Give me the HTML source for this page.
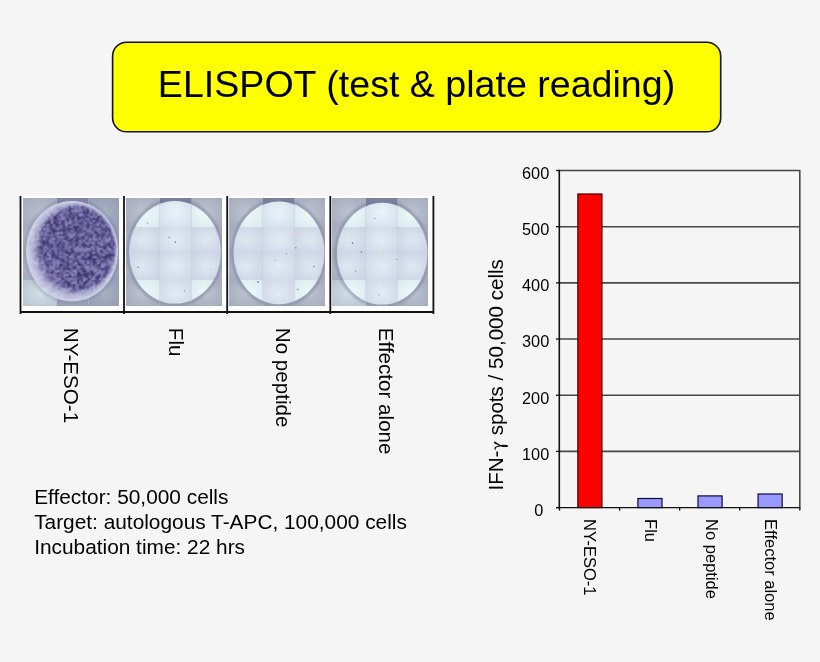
<!DOCTYPE html>
<html><head><meta charset="utf-8"><title>ELISPOT</title>
<style>
html,body{margin:0;padding:0;background:#f5f5f5;}
body{width:820px;height:662px;overflow:hidden;font-family:"Liberation Sans",sans-serif;}
svg{display:block;will-change:transform;}
</style></head><body>
<svg width="820" height="662" viewBox="0 0 820 662"><rect x="21.5" y="196" width="101.5" height="115" fill="#ffffff"/><rect x="125" y="196" width="101.2" height="115" fill="#ffffff"/><rect x="228.2" y="196" width="101.1" height="115" fill="#ffffff"/><rect x="331.3" y="196" width="101.1" height="115" fill="#ffffff"/><defs><radialGradient id="gib" cx="0.5" cy="0.5" r="0.72"><stop offset="0" stop-color="#eefafa"/><stop offset="1" stop-color="#dae8ee"/></radialGradient><radialGradient id="gim" cx="0.5" cy="0.5" r="0.72"><stop offset="0" stop-color="#e2ecf4"/><stop offset="1" stop-color="#ced4e6"/></radialGradient><radialGradient id="gis" cx="0.5" cy="0.5" r="0.72"><stop offset="0" stop-color="#dee8f0"/><stop offset="1" stop-color="#cad0e4"/></radialGradient><radialGradient id="gob" cx="0.5" cy="0.5" r="0.72"><stop offset="0" stop-color="#bcc2ce"/><stop offset="1" stop-color="#a4aabc"/></radialGradient><radialGradient id="gib2" cx="0.5" cy="0.5" r="0.72"><stop offset="0" stop-color="#e8f4f8"/><stop offset="1" stop-color="#d2dcec"/></radialGradient><radialGradient id="god" cx="0.5" cy="0.5" r="0.72"><stop offset="0" stop-color="#8c92aa"/><stop offset="1" stop-color="#767c98"/></radialGradient><radialGradient id="gol" cx="0.5" cy="0.5" r="0.72"><stop offset="0" stop-color="#d0dee4"/><stop offset="1" stop-color="#b6c4d2"/></radialGradient><radialGradient id="go1a" cx="0.5" cy="0.5" r="0.72"><stop offset="0" stop-color="#b8becc"/><stop offset="1" stop-color="#a4aabc"/></radialGradient><radialGradient id="go1m" cx="0.5" cy="0.5" r="0.72"><stop offset="0" stop-color="#a8b0c2"/><stop offset="1" stop-color="#949cb4"/></radialGradient><radialGradient id="go1d" cx="0.5" cy="0.5" r="0.72"><stop offset="0" stop-color="#9296b4"/><stop offset="1" stop-color="#7e82a4"/></radialGradient><filter id="blur1" x="-0.1" y="-0.1" width="1.2" height="1.2"><feGaussianBlur stdDeviation="0.9"/></filter><filter id="soft" x="0" y="0" width="1" height="1"><feConvolveMatrix order="3" kernelMatrix="1 2 1 2 4 2 1 2 1" edgeMode="duplicate"/></filter><clipPath id="ce0"><ellipse cx="72.1" cy="251.1" rx="46" ry="50.2"/></clipPath><clipPath id="cr0"><rect x="23" y="198" width="96" height="108"/></clipPath><clipPath id="ce1"><ellipse cx="175" cy="252.3" rx="45.8" ry="51.3"/></clipPath><clipPath id="cr1"><rect x="126" y="198" width="96" height="108"/></clipPath><clipPath id="ce2"><ellipse cx="279" cy="252.8" rx="45.4" ry="51.4"/></clipPath><clipPath id="cr2"><rect x="229" y="198" width="96" height="108"/></clipPath><clipPath id="ce3"><ellipse cx="382.2" cy="253.7" rx="45.2" ry="50.9"/></clipPath><clipPath id="cr3"><rect x="332" y="198" width="96" height="108"/></clipPath></defs><g clip-path="url(#cr0)"><rect x="23" y="198" width="33.6" height="29" fill="url(#go1a)"/><rect x="56.6" y="198" width="32.1" height="29" fill="url(#go1d)"/><rect x="88.7" y="198" width="30.3" height="29" fill="url(#go1m)"/><rect x="23" y="227" width="33.6" height="26" fill="url(#go1a)"/><rect x="56.6" y="227" width="32.1" height="26" fill="url(#go1d)"/><rect x="88.7" y="227" width="30.3" height="26" fill="url(#go1m)"/><rect x="23" y="253" width="33.6" height="27" fill="url(#go1a)"/><rect x="56.6" y="253" width="32.1" height="27" fill="url(#go1m)"/><rect x="88.7" y="253" width="30.3" height="27" fill="url(#go1m)"/><rect x="23" y="280" width="33.6" height="26" fill="url(#gol)"/><rect x="56.6" y="280" width="32.1" height="26" fill="url(#go1m)"/><rect x="88.7" y="280" width="30.3" height="26" fill="url(#go1m)"/><ellipse cx="72.1" cy="251.1" rx="47.2" ry="51.400000000000006" fill="none" stroke="#6f7698" stroke-width="2" opacity="0.4" filter="url(#blur1)"/><g clip-path="url(#ce0)"><g filter="url(#soft)"><g transform="translate(23 198) scale(2)" shape-rendering="crispEdges"><path fill="#c6cce4" d="M0 0h1v1h-1zM18 0h1v1h-1zM23 0h1v1h-1zM12 1h1v1h-1zM20 2h2v1h-2zM24 2h1v1h-1zM30 2h1v1h-1zM32 3h1v1h-1zM13 5h1v1h-1zM39 5h1v1h-1zM0 8h1v1h-1zM7 8h1v1h-1zM7 9h1v1h-1zM43 12h1v1h-1zM0 13h1v1h-1zM45 16h1v1h-1zM2 23h1v1h-1zM2 24h2v1h-2zM47 25h1v1h-1zM1 27h1v1h-1zM3 33h1v1h-1zM4 35h1v1h-1zM5 37h1v1h-1zM44 37h2v1h-2zM46 38h1v1h-1zM5 39h1v1h-1zM43 39h1v1h-1zM42 40h1v1h-1zM41 42h1v1h-1zM8 43h1v1h-1zM4 44h1v1h-1zM10 44h1v1h-1zM0 46h1v1h-1zM2 47h1v1h-1zM46 47h1v1h-1zM12 48h1v1h-1zM10 49h1v1h-1zM18 49h1v1h-1zM22 50h1v1h-1zM24 50h1v1h-1zM27 50h1v1h-1zM4 51h1v1h-1zM9 51h1v1h-1zM0 52h1v1h-1zM3 52h1v1h-1zM4 53h1v1h-1zM17 53h1v1h-1zM41 53h1v1h-1z"/><path fill="#d2d2ea" d="M1 0h1v1h-1zM10 0h1v1h-1zM12 0h2v1h-2zM17 0h1v1h-1zM20 0h1v1h-1zM28 0h1v1h-1zM30 0h3v1h-3zM35 0h1v1h-1zM42 0h2v1h-2zM3 1h1v1h-1zM11 1h1v1h-1zM15 1h1v1h-1zM23 1h1v1h-1zM41 1h1v1h-1zM45 1h3v1h-3zM0 2h1v1h-1zM6 2h1v1h-1zM15 2h1v1h-1zM17 2h1v1h-1zM19 2h1v1h-1zM31 2h1v1h-1zM33 2h3v1h-3zM39 2h1v1h-1zM42 2h3v1h-3zM3 3h1v1h-1zM5 3h2v1h-2zM9 3h1v1h-1zM12 3h1v1h-1zM37 3h1v1h-1zM4 4h1v1h-1zM13 4h2v1h-2zM39 4h1v1h-1zM46 4h2v1h-2zM4 5h1v1h-1zM7 5h1v1h-1zM9 5h2v1h-2zM12 5h1v1h-1zM1 6h1v1h-1zM4 6h1v1h-1zM39 6h2v1h-2zM2 7h1v1h-1zM4 7h1v1h-1zM9 7h1v1h-1zM40 7h1v1h-1zM43 7h3v1h-3zM47 7h1v1h-1zM41 8h1v1h-1zM45 8h1v1h-1zM2 9h3v1h-3zM8 9h1v1h-1zM44 9h1v1h-1zM46 9h1v1h-1zM43 10h5v1h-5zM1 11h1v1h-1zM3 11h2v1h-2zM1 12h1v1h-1zM45 12h2v1h-2zM1 13h2v1h-2zM45 13h2v1h-2zM2 14h1v1h-1zM1 15h1v1h-1zM3 15h1v1h-1zM1 16h2v1h-2zM1 17h2v1h-2zM2 18h1v1h-1zM47 18h1v1h-1zM0 19h2v1h-2zM1 20h1v1h-1zM0 23h2v1h-2zM47 28h1v1h-1zM0 31h2v1h-2zM47 31h1v1h-1zM46 32h1v1h-1zM0 34h1v1h-1zM47 34h1v1h-1zM46 35h1v1h-1zM1 36h1v1h-1zM3 36h1v1h-1zM3 37h1v1h-1zM46 37h1v1h-1zM2 38h1v1h-1zM4 38h1v1h-1zM3 39h2v1h-2zM47 39h1v1h-1zM3 40h1v1h-1zM5 40h2v1h-2zM46 40h2v1h-2zM2 41h2v1h-2zM5 41h1v1h-1zM42 41h1v1h-1zM2 42h1v1h-1zM5 42h1v1h-1zM43 42h1v1h-1zM0 43h1v1h-1zM4 43h2v1h-2zM42 43h1v1h-1zM47 43h1v1h-1zM7 44h1v1h-1zM7 45h1v1h-1zM10 45h2v1h-2zM42 45h1v1h-1zM44 45h2v1h-2zM4 46h1v1h-1zM6 46h1v1h-1zM9 46h1v1h-1zM41 46h1v1h-1zM47 46h1v1h-1zM4 47h1v1h-1zM9 47h2v1h-2zM12 47h1v1h-1zM37 47h1v1h-1zM47 47h1v1h-1zM1 48h1v1h-1zM4 48h1v1h-1zM10 48h1v1h-1zM45 48h1v1h-1zM47 48h1v1h-1zM9 49h1v1h-1zM13 49h1v1h-1zM16 49h1v1h-1zM34 49h1v1h-1zM40 49h1v1h-1zM44 49h1v1h-1zM5 50h1v1h-1zM7 50h1v1h-1zM9 50h1v1h-1zM14 50h2v1h-2zM17 50h1v1h-1zM26 50h1v1h-1zM28 50h1v1h-1zM33 50h1v1h-1zM37 50h1v1h-1zM40 50h1v1h-1zM42 50h1v1h-1zM2 51h1v1h-1zM7 51h1v1h-1zM14 51h1v1h-1zM20 51h1v1h-1zM22 51h2v1h-2zM25 51h1v1h-1zM27 51h1v1h-1zM29 51h1v1h-1zM34 51h2v1h-2zM44 51h1v1h-1zM46 51h1v1h-1zM1 52h1v1h-1zM8 52h2v1h-2zM22 52h1v1h-1zM28 52h1v1h-1zM37 52h1v1h-1zM42 52h1v1h-1zM45 52h1v1h-1zM47 52h1v1h-1zM0 53h1v1h-1zM2 53h1v1h-1zM8 53h1v1h-1zM11 53h1v1h-1zM18 53h1v1h-1zM23 53h1v1h-1zM25 53h2v1h-2zM31 53h1v1h-1zM36 53h1v1h-1zM39 53h2v1h-2zM42 53h1v1h-1zM47 53h1v1h-1z"/><path fill="#d2d8ea" d="M2 0h1v1h-1zM6 0h1v1h-1zM21 0h1v1h-1zM24 0h1v1h-1zM44 0h2v1h-2zM7 1h2v1h-2zM17 1h2v1h-2zM22 1h1v1h-1zM25 1h1v1h-1zM30 1h1v1h-1zM36 1h1v1h-1zM40 1h1v1h-1zM5 2h1v1h-1zM7 2h1v1h-1zM14 2h1v1h-1zM16 2h1v1h-1zM32 2h1v1h-1zM38 2h1v1h-1zM40 2h1v1h-1zM45 2h1v1h-1zM10 3h1v1h-1zM36 3h1v1h-1zM40 3h1v1h-1zM44 3h1v1h-1zM46 3h1v1h-1zM0 4h1v1h-1zM3 4h1v1h-1zM35 4h1v1h-1zM40 4h1v1h-1zM42 4h2v1h-2zM6 5h1v1h-1zM41 5h1v1h-1zM47 5h1v1h-1zM2 6h1v1h-1zM9 6h1v1h-1zM38 6h1v1h-1zM42 6h2v1h-2zM45 6h1v1h-1zM46 7h1v1h-1zM1 8h1v1h-1zM6 8h1v1h-1zM40 8h1v1h-1zM44 8h1v1h-1zM46 8h1v1h-1zM43 9h1v1h-1zM47 9h1v1h-1zM0 10h1v1h-1zM6 10h1v1h-1zM5 11h2v1h-2zM47 11h1v1h-1zM2 12h1v1h-1zM44 12h1v1h-1zM47 13h1v1h-1zM1 14h1v1h-1zM0 15h1v1h-1zM45 15h1v1h-1zM0 16h1v1h-1zM3 16h1v1h-1zM3 17h1v1h-1zM0 22h1v1h-1zM47 22h1v1h-1zM0 24h1v1h-1zM0 26h2v1h-2zM1 28h1v1h-1zM0 29h2v1h-2zM0 32h1v1h-1zM47 32h1v1h-1zM0 35h1v1h-1zM47 35h1v1h-1zM0 36h1v1h-1zM2 36h1v1h-1zM47 36h1v1h-1zM3 38h1v1h-1zM0 39h2v1h-2zM1 42h1v1h-1zM3 42h1v1h-1zM44 42h1v1h-1zM46 42h1v1h-1zM2 43h2v1h-2zM6 43h1v1h-1zM41 43h1v1h-1zM3 44h1v1h-1zM5 44h1v1h-1zM40 44h1v1h-1zM44 44h1v1h-1zM0 45h1v1h-1zM4 45h1v1h-1zM39 45h1v1h-1zM41 45h1v1h-1zM5 46h1v1h-1zM11 46h1v1h-1zM38 46h1v1h-1zM42 46h3v1h-3zM5 47h2v1h-2zM39 47h1v1h-1zM41 47h2v1h-2zM44 47h1v1h-1zM2 48h1v1h-1zM11 48h1v1h-1zM13 48h1v1h-1zM36 48h2v1h-2zM39 48h2v1h-2zM2 49h1v1h-1zM8 49h1v1h-1zM11 49h2v1h-2zM35 49h2v1h-2zM38 49h1v1h-1zM42 49h1v1h-1zM47 49h1v1h-1zM3 50h2v1h-2zM35 50h1v1h-1zM45 50h1v1h-1zM47 50h1v1h-1zM0 51h1v1h-1zM5 51h2v1h-2zM8 51h1v1h-1zM11 51h1v1h-1zM19 51h1v1h-1zM24 51h1v1h-1zM30 51h1v1h-1zM36 51h1v1h-1zM38 51h2v1h-2zM5 52h1v1h-1zM12 52h1v1h-1zM14 52h1v1h-1zM17 52h1v1h-1zM20 52h1v1h-1zM24 52h1v1h-1zM29 52h1v1h-1zM35 52h1v1h-1zM1 53h1v1h-1zM12 53h1v1h-1zM24 53h1v1h-1zM29 53h1v1h-1zM33 53h1v1h-1zM46 53h1v1h-1z"/><path fill="#ccd2e4" d="M3 0h1v1h-1zM8 0h2v1h-2zM15 0h2v1h-2zM19 0h1v1h-1zM22 0h1v1h-1zM26 0h2v1h-2zM33 0h1v1h-1zM36 0h1v1h-1zM41 0h1v1h-1zM0 1h2v1h-2zM6 1h1v1h-1zM9 1h1v1h-1zM16 1h1v1h-1zM21 1h1v1h-1zM28 1h2v1h-2zM31 1h1v1h-1zM33 1h3v1h-3zM2 2h1v1h-1zM10 2h1v1h-1zM13 2h1v1h-1zM37 2h1v1h-1zM1 3h1v1h-1zM13 3h3v1h-3zM43 3h1v1h-1zM47 3h1v1h-1zM1 4h1v1h-1zM5 4h1v1h-1zM7 4h1v1h-1zM9 4h2v1h-2zM38 4h1v1h-1zM41 4h1v1h-1zM44 4h1v1h-1zM2 5h2v1h-2zM8 5h1v1h-1zM42 5h1v1h-1zM46 5h1v1h-1zM0 6h1v1h-1zM7 6h1v1h-1zM41 6h1v1h-1zM0 7h1v1h-1zM3 7h1v1h-1zM39 7h1v1h-1zM2 8h1v1h-1zM4 8h1v1h-1zM43 8h1v1h-1zM0 9h2v1h-2zM5 9h1v1h-1zM3 10h3v1h-3zM43 11h1v1h-1zM45 11h1v1h-1zM47 12h1v1h-1zM0 14h1v1h-1zM4 14h1v1h-1zM47 14h1v1h-1zM4 15h1v1h-1zM46 15h2v1h-2zM46 16h1v1h-1zM46 17h1v1h-1zM46 18h1v1h-1zM47 20h1v1h-1zM47 21h1v1h-1zM1 22h1v1h-1zM47 24h1v1h-1zM47 26h1v1h-1zM0 27h1v1h-1zM47 27h1v1h-1zM2 29h1v1h-1zM1 30h1v1h-1zM47 30h1v1h-1zM46 33h1v1h-1zM2 34h1v1h-1zM46 34h1v1h-1zM1 35h1v1h-1zM1 37h2v1h-2zM0 38h2v1h-2zM2 39h1v1h-1zM45 39h2v1h-2zM1 40h1v1h-1zM43 40h2v1h-2zM0 41h2v1h-2zM4 41h1v1h-1zM44 41h1v1h-1zM4 42h1v1h-1zM47 42h1v1h-1zM46 43h1v1h-1zM0 44h1v1h-1zM8 44h1v1h-1zM41 44h1v1h-1zM5 45h1v1h-1zM40 45h1v1h-1zM43 45h1v1h-1zM2 46h2v1h-2zM8 47h1v1h-1zM43 47h1v1h-1zM5 48h1v1h-1zM9 48h1v1h-1zM14 48h1v1h-1zM35 48h1v1h-1zM43 48h1v1h-1zM46 48h1v1h-1zM5 49h2v1h-2zM15 49h1v1h-1zM37 49h1v1h-1zM43 49h1v1h-1zM8 50h1v1h-1zM11 50h1v1h-1zM13 50h1v1h-1zM16 50h1v1h-1zM32 50h1v1h-1zM36 50h1v1h-1zM39 50h1v1h-1zM41 50h1v1h-1zM1 51h1v1h-1zM3 51h1v1h-1zM10 51h1v1h-1zM12 51h1v1h-1zM15 51h1v1h-1zM17 51h1v1h-1zM26 51h1v1h-1zM33 51h1v1h-1zM42 51h2v1h-2zM2 52h1v1h-1zM6 52h1v1h-1zM11 52h1v1h-1zM15 52h2v1h-2zM18 52h1v1h-1zM21 52h1v1h-1zM23 52h1v1h-1zM27 52h1v1h-1zM34 52h1v1h-1zM38 52h2v1h-2zM43 52h1v1h-1zM3 53h1v1h-1zM9 53h1v1h-1zM13 53h1v1h-1zM15 53h1v1h-1zM21 53h2v1h-2zM30 53h1v1h-1zM34 53h1v1h-1zM38 53h1v1h-1zM43 53h1v1h-1z"/><path fill="#d8def0" d="M4 0h1v1h-1zM19 1h1v1h-1zM42 1h1v1h-1zM5 7h1v1h-1zM2 10h1v1h-1zM1 25h1v1h-1zM1 46h1v1h-1zM10 46h1v1h-1zM7 49h1v1h-1zM18 51h1v1h-1zM5 53h1v1h-1z"/><path fill="#cccce4" d="M5 0h1v1h-1zM11 0h1v1h-1zM14 0h1v1h-1zM34 0h1v1h-1zM37 0h1v1h-1zM39 0h2v1h-2zM47 0h1v1h-1zM2 1h1v1h-1zM5 1h1v1h-1zM13 1h2v1h-2zM24 1h1v1h-1zM27 1h1v1h-1zM37 1h1v1h-1zM39 1h1v1h-1zM43 1h1v1h-1zM8 2h1v1h-1zM11 2h2v1h-2zM29 2h1v1h-1zM41 2h1v1h-1zM46 2h1v1h-1zM0 3h1v1h-1zM4 3h1v1h-1zM11 3h1v1h-1zM16 3h1v1h-1zM33 3h1v1h-1zM39 3h1v1h-1zM45 3h1v1h-1zM2 4h1v1h-1zM12 4h1v1h-1zM37 4h1v1h-1zM11 5h1v1h-1zM43 5h1v1h-1zM3 6h1v1h-1zM6 6h1v1h-1zM10 6h2v1h-2zM47 6h1v1h-1zM1 7h1v1h-1zM6 7h3v1h-3zM10 7h1v1h-1zM42 7h1v1h-1zM3 8h1v1h-1zM8 8h2v1h-2zM47 8h1v1h-1zM41 9h2v1h-2zM45 9h1v1h-1zM46 11h1v1h-1zM4 12h1v1h-1zM3 13h3v1h-3zM44 13h1v1h-1zM3 14h1v1h-1zM44 14h3v1h-3zM0 17h1v1h-1zM4 17h1v1h-1zM0 18h2v1h-2zM3 18h1v1h-1zM46 19h2v1h-2zM2 20h1v1h-1zM47 23h1v1h-1zM1 24h1v1h-1zM0 25h1v1h-1zM2 25h1v1h-1zM2 26h1v1h-1zM2 28h1v1h-1zM47 29h1v1h-1zM2 31h2v1h-2zM1 32h1v1h-1zM3 32h1v1h-1zM2 33h1v1h-1zM47 33h1v1h-1zM1 34h1v1h-1zM2 35h1v1h-1zM5 36h1v1h-1zM4 37h1v1h-1zM6 38h1v1h-1zM2 40h1v1h-1zM45 40h1v1h-1zM6 41h1v1h-1zM46 41h1v1h-1zM7 42h1v1h-1zM9 42h1v1h-1zM45 42h1v1h-1zM1 43h1v1h-1zM2 44h1v1h-1zM9 44h1v1h-1zM42 44h1v1h-1zM45 44h2v1h-2zM2 45h2v1h-2zM8 45h1v1h-1zM7 46h1v1h-1zM39 46h1v1h-1zM45 46h2v1h-2zM3 47h1v1h-1zM40 47h1v1h-1zM45 47h1v1h-1zM6 48h2v1h-2zM15 48h2v1h-2zM34 48h1v1h-1zM41 48h2v1h-2zM0 49h1v1h-1zM17 49h1v1h-1zM32 49h1v1h-1zM45 49h1v1h-1zM0 50h2v1h-2zM6 50h1v1h-1zM18 50h3v1h-3zM43 50h1v1h-1zM46 50h1v1h-1zM16 51h1v1h-1zM31 51h1v1h-1zM40 51h2v1h-2zM13 52h1v1h-1zM26 52h1v1h-1zM31 52h1v1h-1zM33 52h1v1h-1zM6 53h2v1h-2zM14 53h1v1h-1zM16 53h1v1h-1zM20 53h1v1h-1zM45 53h1v1h-1z"/><path fill="#c6ccde" d="M7 0h1v1h-1zM38 0h1v1h-1zM46 0h1v1h-1zM18 2h1v1h-1zM47 2h1v1h-1zM2 3h1v1h-1zM44 5h2v1h-2zM5 6h1v1h-1zM6 9h1v1h-1zM0 28h1v1h-1zM0 40h1v1h-1zM6 45h1v1h-1zM8 46h1v1h-1zM3 49h1v1h-1zM41 49h1v1h-1zM12 50h1v1h-1zM28 51h1v1h-1zM37 51h1v1h-1zM47 51h1v1h-1zM25 52h1v1h-1zM32 52h1v1h-1zM40 52h1v1h-1zM44 52h1v1h-1z"/><path fill="#ccd2ea" d="M25 0h1v1h-1zM29 0h1v1h-1zM10 1h1v1h-1zM20 1h1v1h-1zM36 2h1v1h-1zM34 3h2v1h-2zM38 3h1v1h-1zM41 3h1v1h-1zM6 4h1v1h-1zM45 4h1v1h-1zM0 5h2v1h-2zM5 5h1v1h-1zM37 5h2v1h-2zM8 6h1v1h-1zM46 6h1v1h-1zM41 7h1v1h-1zM5 8h1v1h-1zM1 10h1v1h-1zM7 10h1v1h-1zM42 10h1v1h-1zM2 11h1v1h-1zM44 11h1v1h-1zM3 12h1v1h-1zM5 12h1v1h-1zM5 14h1v1h-1zM47 17h1v1h-1zM2 19h1v1h-1zM0 20h1v1h-1zM0 21h1v1h-1zM2 21h1v1h-1zM2 27h1v1h-1zM0 30h1v1h-1zM2 30h1v1h-1zM2 32h1v1h-1zM3 34h1v1h-1zM3 35h1v1h-1zM4 36h1v1h-1zM45 36h1v1h-1zM0 37h1v1h-1zM47 37h1v1h-1zM44 38h1v1h-1zM44 39h1v1h-1zM4 40h1v1h-1zM7 40h1v1h-1zM43 41h1v1h-1zM45 41h1v1h-1zM0 42h1v1h-1zM6 42h1v1h-1zM42 42h1v1h-1zM43 43h1v1h-1zM6 44h1v1h-1zM43 44h1v1h-1zM47 44h1v1h-1zM9 45h1v1h-1zM47 45h1v1h-1zM37 46h1v1h-1zM1 47h1v1h-1zM7 47h1v1h-1zM15 47h1v1h-1zM36 47h1v1h-1zM38 47h1v1h-1zM0 48h1v1h-1zM3 48h1v1h-1zM8 48h1v1h-1zM44 48h1v1h-1zM14 49h1v1h-1zM19 49h1v1h-1zM39 49h1v1h-1zM46 49h1v1h-1zM2 50h1v1h-1zM10 50h1v1h-1zM21 50h1v1h-1zM30 50h1v1h-1zM34 50h1v1h-1zM21 51h1v1h-1zM32 51h1v1h-1zM7 52h1v1h-1zM10 52h1v1h-1zM46 52h1v1h-1zM10 53h1v1h-1zM27 53h2v1h-2zM35 53h1v1h-1zM37 53h1v1h-1zM44 53h1v1h-1z"/><path fill="#d8d8f0" d="M4 1h1v1h-1zM26 1h1v1h-1zM32 1h1v1h-1zM38 1h1v1h-1zM44 1h1v1h-1zM1 2h1v1h-1zM9 2h1v1h-1zM8 4h1v1h-1zM11 4h1v1h-1zM36 4h1v1h-1zM40 5h1v1h-1zM44 6h1v1h-1zM42 8h1v1h-1zM0 11h1v1h-1zM0 12h1v1h-1zM2 15h1v1h-1zM1 21h1v1h-1zM0 33h1v1h-1zM46 36h1v1h-1zM47 41h1v1h-1zM7 43h1v1h-1zM46 45h1v1h-1zM40 46h1v1h-1zM11 47h1v1h-1zM38 50h1v1h-1zM45 51h1v1h-1zM4 52h1v1h-1zM19 53h1v1h-1z"/><path fill="#d2d8f0" d="M3 2h1v1h-1zM7 3h2v1h-2zM47 16h1v1h-1zM1 33h1v1h-1zM45 38h1v1h-1zM47 38h1v1h-1zM44 43h1v1h-1zM1 44h1v1h-1zM1 45h1v1h-1zM4 49h1v1h-1zM33 49h1v1h-1zM31 50h1v1h-1zM44 50h1v1h-1zM13 51h1v1h-1zM19 52h1v1h-1zM36 52h1v1h-1zM41 52h1v1h-1zM32 53h1v1h-1z"/><path fill="#c6c6de" d="M4 2h1v1h-1zM28 2h1v1h-1zM42 3h1v1h-1zM7 11h1v1h-1zM6 12h1v1h-1zM4 16h1v1h-1zM3 19h1v1h-1zM3 20h1v1h-1zM46 20h1v1h-1zM2 22h1v1h-1zM4 33h1v1h-1zM4 34h1v1h-1zM6 39h1v1h-1zM45 43h1v1h-1zM39 44h1v1h-1zM13 47h1v1h-1zM38 48h1v1h-1zM1 49h1v1h-1zM29 50h1v1h-1z"/><path fill="#c6c6e4" d="M22 2h1v1h-1zM18 3h1v1h-1zM15 4h1v1h-1zM14 5h1v1h-1zM12 6h1v1h-1zM37 6h1v1h-1zM12 7h1v1h-1zM8 10h1v1h-1zM7 13h1v1h-1zM3 25h1v1h-1zM3 29h1v1h-1zM4 31h1v1h-1zM5 32h1v1h-1zM5 38h1v1h-1zM8 40h1v1h-1zM7 41h2v1h-2zM41 41h1v1h-1zM11 44h1v1h-1zM12 45h2v1h-2zM12 46h2v1h-2zM17 47h1v1h-1zM35 47h1v1h-1zM19 48h1v1h-1z"/><path fill="#c0c6de" d="M23 2h1v1h-1zM26 2h1v1h-1zM9 9h1v1h-1zM6 13h1v1h-1zM3 27h1v1h-1zM3 28h1v1h-1zM3 30h1v1h-1zM45 34h1v1h-1zM8 42h1v1h-1zM0 47h1v1h-1zM14 47h1v1h-1zM17 48h1v1h-1zM33 48h1v1h-1zM29 49h3v1h-3zM23 50h1v1h-1zM25 50h1v1h-1z"/><path fill="#c0c0de" d="M25 2h1v1h-1zM17 3h1v1h-1zM34 4h1v1h-1zM36 5h1v1h-1zM38 7h1v1h-1zM10 8h1v1h-1zM12 8h1v1h-1zM42 11h1v1h-1zM7 12h2v1h-2zM6 14h1v1h-1zM5 15h1v1h-1zM5 16h1v1h-1zM5 18h1v1h-1zM4 20h1v1h-1zM4 21h1v1h-1zM3 26h1v1h-1zM4 27h1v1h-1zM4 29h1v1h-1zM46 29h1v1h-1zM4 30h1v1h-1zM46 31h1v1h-1zM6 32h1v1h-1zM5 35h1v1h-1zM45 35h1v1h-1zM6 36h1v1h-1zM6 37h1v1h-1zM7 38h1v1h-1zM7 39h1v1h-1zM9 39h1v1h-1zM10 42h1v1h-1zM10 43h1v1h-1zM12 44h2v1h-2zM37 45h1v1h-1zM16 47h1v1h-1zM18 48h1v1h-1zM20 48h1v1h-1zM26 48h1v1h-1zM27 49h2v1h-2z"/><path fill="#bac0de" d="M27 2h1v1h-1zM10 9h1v1h-1zM9 11h1v1h-1zM45 17h1v1h-1zM5 20h1v1h-1zM8 39h1v1h-1zM18 47h1v1h-1z"/><path fill="#babad8" d="M19 3h2v1h-2zM31 3h1v1h-1zM13 6h1v1h-1zM9 10h1v1h-1zM8 11h1v1h-1zM44 15h1v1h-1zM5 17h1v1h-1zM45 18h1v1h-1zM46 21h1v1h-1zM3 22h2v1h-2zM4 23h2v1h-2zM5 28h1v1h-1zM5 31h1v1h-1zM42 39h1v1h-1zM9 41h1v1h-1zM37 44h1v1h-1zM14 46h1v1h-1zM16 46h2v1h-2zM35 46h1v1h-1zM31 47h1v1h-1zM34 47h1v1h-1zM21 48h1v1h-1zM24 48h1v1h-1zM31 48h2v1h-2zM20 49h2v1h-2zM23 49h1v1h-1zM25 49h2v1h-2z"/><path fill="#b4b4d2" d="M21 3h1v1h-1zM17 4h1v1h-1zM35 5h1v1h-1zM11 8h1v1h-1zM41 10h1v1h-1zM6 15h1v1h-1zM6 16h1v1h-1zM4 24h1v1h-1zM4 26h1v1h-1zM5 34h1v1h-1zM40 42h1v1h-1zM11 43h2v1h-2zM38 44h1v1h-1zM23 48h1v1h-1zM24 49h1v1h-1z"/><path fill="#a8a8cc" d="M22 3h1v1h-1zM24 3h1v1h-1zM29 3h1v1h-1zM18 4h1v1h-1zM16 5h1v1h-1zM13 7h1v1h-1zM39 8h1v1h-1zM10 10h1v1h-1zM7 15h1v1h-1zM7 20h1v1h-1zM6 22h1v1h-1zM5 25h1v1h-1zM46 25h1v1h-1zM46 26h1v1h-1zM5 27h1v1h-1zM5 29h1v1h-1zM6 31h1v1h-1zM7 33h1v1h-1zM44 34h1v1h-1zM7 35h1v1h-1zM9 37h1v1h-1zM8 38h2v1h-2zM10 40h1v1h-1zM10 41h1v1h-1zM14 44h1v1h-1zM20 45h1v1h-1zM18 46h2v1h-2zM34 46h1v1h-1zM27 47h1v1h-1z"/><path fill="#9c9cc6" d="M23 3h1v1h-1zM33 5h1v1h-1zM7 16h1v1h-1zM44 16h1v1h-1zM45 20h1v1h-1zM7 31h1v1h-1zM10 39h1v1h-1zM13 42h1v1h-1zM19 45h1v1h-1z"/><path fill="#9690ba" d="M25 3h1v1h-1zM43 14h1v1h-1z"/><path fill="#9696c0" d="M26 3h1v1h-1zM24 4h1v1h-1zM18 5h1v1h-1zM12 9h1v1h-1zM6 21h1v1h-1zM6 24h1v1h-1zM46 24h1v1h-1zM5 26h1v1h-1zM45 30h1v1h-1zM45 32h1v1h-1zM43 36h1v1h-1zM39 41h2v1h-2zM31 45h1v1h-1zM22 47h1v1h-1zM24 47h1v1h-1z"/><path fill="#908aba" d="M27 3h1v1h-1zM10 13h1v1h-1zM45 19h1v1h-1zM44 32h1v1h-1zM9 34h2v1h-2zM9 36h1v1h-1zM36 44h1v1h-1zM21 45h2v1h-2z"/><path fill="#aeaed2" d="M28 3h1v1h-1zM30 3h1v1h-1zM20 4h1v1h-1zM16 6h1v1h-1zM36 6h1v1h-1zM11 9h1v1h-1zM11 10h1v1h-1zM9 12h1v1h-1zM43 13h1v1h-1zM5 19h1v1h-1zM6 20h1v1h-1zM46 22h1v1h-1zM6 27h1v1h-1zM46 27h1v1h-1zM46 28h1v1h-1zM5 33h1v1h-1zM45 33h1v1h-1zM8 36h1v1h-1zM11 42h1v1h-1zM39 43h1v1h-1zM35 44h1v1h-1zM36 45h1v1h-1zM20 47h1v1h-1zM28 47h1v1h-1zM25 48h1v1h-1z"/><path fill="#babade" d="M16 4h1v1h-1zM5 21h1v1h-1zM41 40h1v1h-1zM12 42h1v1h-1zM13 43h1v1h-1zM38 43h1v1h-1zM19 47h1v1h-1z"/><path fill="#a8a8d2" d="M19 4h1v1h-1zM7 30h1v1h-1zM7 32h1v1h-1zM10 36h1v1h-1zM10 37h1v1h-1zM33 45h1v1h-1zM21 46h1v1h-1z"/><path fill="#a2a2cc" d="M21 4h1v1h-1zM41 11h1v1h-1zM6 23h1v1h-1zM42 38h1v1h-1zM40 40h1v1h-1zM14 42h1v1h-1zM29 46h1v1h-1zM21 47h1v1h-1zM30 47h1v1h-1z"/><path fill="#7878a8" d="M22 4h1v1h-1zM8 32h1v1h-1zM11 36h1v1h-1zM38 42h1v1h-1zM24 45h1v1h-1z"/><path fill="#544e8a" d="M23 4h1v1h-1zM22 8h1v1h-1zM27 8h1v1h-1zM34 10h1v1h-1zM20 12h1v1h-1zM13 15h1v1h-1zM15 15h1v1h-1zM19 15h1v1h-1zM21 15h1v1h-1zM28 15h1v1h-1zM39 15h1v1h-1zM10 16h1v1h-1zM27 16h1v1h-1zM43 17h1v1h-1zM21 18h1v1h-1zM39 18h1v1h-1zM26 19h2v1h-2zM16 20h1v1h-1zM24 22h1v1h-1zM36 23h1v1h-1zM12 24h1v1h-1zM28 24h1v1h-1zM41 25h1v1h-1zM44 25h1v1h-1zM9 26h1v1h-1zM13 27h1v1h-1zM26 28h2v1h-2zM31 28h1v1h-1zM37 28h1v1h-1zM10 30h1v1h-1zM22 31h1v1h-1zM11 32h1v1h-1zM39 32h1v1h-1zM37 34h1v1h-1zM20 36h1v1h-1zM21 39h1v1h-1zM28 39h1v1h-1zM29 40h1v1h-1zM18 41h1v1h-1zM20 42h2v1h-2zM31 44h1v1h-1zM30 45h1v1h-1z"/><path fill="#6c669c" d="M25 4h1v1h-1zM21 5h1v1h-1zM31 5h1v1h-1zM36 7h1v1h-1zM27 13h2v1h-2zM31 14h1v1h-1zM16 15h1v1h-1zM25 15h1v1h-1zM38 16h1v1h-1zM28 17h1v1h-1zM36 18h1v1h-1zM10 19h1v1h-1zM37 21h1v1h-1zM19 22h1v1h-1zM7 24h1v1h-1zM44 26h1v1h-1zM22 28h1v1h-1zM7 29h1v1h-1zM16 32h1v1h-1zM23 32h1v1h-1zM34 32h1v1h-1zM42 32h1v1h-1zM9 33h1v1h-1zM16 34h1v1h-1zM13 35h1v1h-1zM24 35h1v1h-1zM42 36h1v1h-1zM11 37h2v1h-2zM30 39h1v1h-1zM13 40h1v1h-1zM14 41h1v1h-1zM19 43h1v1h-1zM29 45h1v1h-1zM26 46h1v1h-1z"/><path fill="#7872a8" d="M26 4h1v1h-1zM28 6h1v1h-1zM20 7h1v1h-1zM32 8h1v1h-1zM17 9h1v1h-1zM23 10h1v1h-1zM31 10h1v1h-1zM26 11h1v1h-1zM18 12h1v1h-1zM12 14h1v1h-1zM11 15h1v1h-1zM38 15h1v1h-1zM33 16h2v1h-2zM38 17h1v1h-1zM14 18h1v1h-1zM24 18h1v1h-1zM41 18h1v1h-1zM18 19h1v1h-1zM20 19h1v1h-1zM41 20h1v1h-1zM35 21h1v1h-1zM14 22h1v1h-1zM22 25h1v1h-1zM30 25h1v1h-1zM8 26h1v1h-1zM27 26h1v1h-1zM45 26h1v1h-1zM10 27h1v1h-1zM20 27h1v1h-1zM41 27h2v1h-2zM8 28h1v1h-1zM9 30h1v1h-1zM24 31h1v1h-1zM29 31h1v1h-1zM38 31h1v1h-1zM18 32h1v1h-1zM40 32h1v1h-1zM31 33h1v1h-1zM19 34h1v1h-1zM28 34h1v1h-1zM35 34h1v1h-1zM11 35h1v1h-1zM27 35h1v1h-1zM33 35h1v1h-1zM18 36h1v1h-1zM16 37h1v1h-1zM13 39h1v1h-1zM25 41h1v1h-1zM33 41h1v1h-1zM18 42h1v1h-1zM32 42h1v1h-1zM19 44h1v1h-1zM21 44h1v1h-1zM33 44h1v1h-1zM25 46h1v1h-1z"/><path fill="#726ca8" d="M27 4h1v1h-1zM22 5h1v1h-1zM30 5h1v1h-1zM17 7h1v1h-1zM22 9h1v1h-1zM18 11h1v1h-1zM42 13h1v1h-1zM29 14h1v1h-1zM11 16h1v1h-1zM12 18h1v1h-1zM16 18h1v1h-1zM28 19h1v1h-1zM38 19h1v1h-1zM41 19h1v1h-1zM34 20h1v1h-1zM21 21h1v1h-1zM29 22h1v1h-1zM21 23h1v1h-1zM35 23h1v1h-1zM38 23h1v1h-1zM11 26h1v1h-1zM41 26h1v1h-1zM14 30h1v1h-1zM25 33h1v1h-1zM42 33h1v1h-1zM20 38h1v1h-1zM18 39h1v1h-1zM27 44h1v1h-1z"/><path fill="#847eb4" d="M28 4h1v1h-1zM24 6h1v1h-1zM19 9h1v1h-1zM23 11h1v1h-1zM28 11h1v1h-1zM21 12h1v1h-1zM31 12h1v1h-1zM26 13h1v1h-1zM39 13h1v1h-1zM12 15h1v1h-1zM12 16h1v1h-1zM9 17h1v1h-1zM18 17h1v1h-1zM30 17h1v1h-1zM42 17h1v1h-1zM44 17h1v1h-1zM11 18h1v1h-1zM35 19h1v1h-1zM35 20h1v1h-1zM38 20h1v1h-1zM30 21h1v1h-1zM22 22h1v1h-1zM32 22h1v1h-1zM38 22h1v1h-1zM28 23h1v1h-1zM44 23h1v1h-1zM21 24h1v1h-1zM37 24h1v1h-1zM45 24h1v1h-1zM25 25h1v1h-1zM39 25h1v1h-1zM13 26h1v1h-1zM40 26h1v1h-1zM43 26h1v1h-1zM12 27h1v1h-1zM18 27h1v1h-1zM24 28h1v1h-1zM27 29h1v1h-1zM36 29h1v1h-1zM15 31h1v1h-1zM29 32h1v1h-1zM10 33h1v1h-1zM17 33h1v1h-1zM13 34h1v1h-1zM12 35h1v1h-1zM14 35h2v1h-2zM36 35h1v1h-1zM35 36h1v1h-1zM13 38h3v1h-3zM24 38h1v1h-1zM20 39h1v1h-1zM16 41h1v1h-1zM29 42h1v1h-1zM27 43h1v1h-1zM31 43h1v1h-1zM26 44h1v1h-1z"/><path fill="#423c78" d="M29 4h1v1h-1zM32 5h1v1h-1zM15 9h1v1h-1zM23 9h1v1h-1zM25 9h1v1h-1zM31 9h1v1h-1zM28 10h1v1h-1zM13 11h1v1h-1zM20 11h1v1h-1zM29 12h1v1h-1zM40 12h1v1h-1zM22 15h1v1h-1zM24 15h1v1h-1zM23 16h1v1h-1zM37 18h1v1h-1zM24 20h1v1h-1zM10 21h1v1h-1zM37 23h1v1h-1zM43 24h1v1h-1zM23 27h1v1h-1zM33 28h2v1h-2zM42 28h1v1h-1zM14 29h1v1h-1zM34 29h1v1h-1zM22 30h1v1h-1zM30 30h1v1h-1zM13 31h1v1h-1zM22 32h1v1h-1zM27 32h1v1h-1zM36 32h1v1h-1zM12 33h1v1h-1zM22 33h1v1h-1zM32 33h1v1h-1zM34 36h1v1h-1zM25 37h1v1h-1zM23 38h1v1h-1zM34 39h1v1h-1zM38 39h1v1h-1zM28 40h1v1h-1zM24 41h1v1h-1zM29 44h1v1h-1z"/><path fill="#605a96" d="M30 4h1v1h-1zM25 5h1v1h-1zM27 5h1v1h-1zM35 6h1v1h-1zM21 7h1v1h-1zM24 8h1v1h-1zM21 9h1v1h-1zM24 9h1v1h-1zM33 13h2v1h-2zM28 14h1v1h-1zM38 14h1v1h-1zM33 17h1v1h-1zM39 17h2v1h-2zM33 18h1v1h-1zM42 18h1v1h-1zM13 20h1v1h-1zM29 21h1v1h-1zM33 22h1v1h-1zM16 23h1v1h-1zM20 23h1v1h-1zM22 23h1v1h-1zM41 23h1v1h-1zM13 24h1v1h-1zM22 24h1v1h-1zM24 24h1v1h-1zM26 24h1v1h-1zM45 25h1v1h-1zM22 26h1v1h-1zM14 27h1v1h-1zM19 27h1v1h-1zM32 27h1v1h-1zM20 28h1v1h-1zM38 28h1v1h-1zM12 31h1v1h-1zM13 32h1v1h-1zM19 32h1v1h-1zM25 32h1v1h-1zM41 32h1v1h-1zM21 33h1v1h-1zM24 34h1v1h-1zM38 35h1v1h-1zM23 36h1v1h-1zM39 36h1v1h-1zM16 38h2v1h-2zM24 39h1v1h-1zM36 40h1v1h-1zM37 41h1v1h-1z"/><path fill="#8a84b4" d="M31 4h1v1h-1zM13 9h1v1h-1zM12 10h1v1h-1zM40 10h1v1h-1zM8 16h1v1h-1zM7 21h1v1h-1zM6 28h1v1h-1zM8 33h1v1h-1zM44 33h1v1h-1zM8 35h1v1h-1zM10 38h1v1h-1zM12 38h1v1h-1zM15 41h1v1h-1zM15 43h1v1h-1zM37 43h1v1h-1zM27 46h1v1h-1z"/><path fill="#a8a2cc" d="M32 4h1v1h-1zM15 6h1v1h-1zM7 17h1v1h-1zM16 44h1v1h-1z"/><path fill="#b4b4d8" d="M33 4h1v1h-1zM40 9h1v1h-1zM10 11h1v1h-1zM7 14h1v1h-1zM8 15h1v1h-1zM5 24h1v1h-1zM6 35h1v1h-1zM7 36h1v1h-1zM7 37h2v1h-2zM39 42h1v1h-1zM14 43h1v1h-1zM16 45h1v1h-1zM35 45h1v1h-1zM15 46h1v1h-1zM32 46h1v1h-1zM33 47h1v1h-1zM22 48h1v1h-1zM27 48h2v1h-2z"/><path fill="#b4bad8" d="M15 5h1v1h-1zM29 48h2v1h-2z"/><path fill="#9090ba" d="M17 5h1v1h-1zM19 5h1v1h-1zM17 45h1v1h-1zM25 47h1v1h-1z"/><path fill="#7e78a8" d="M20 5h1v1h-1zM11 11h1v1h-1zM8 19h1v1h-1zM7 25h1v1h-1zM7 26h1v1h-1zM43 35h1v1h-1zM41 39h1v1h-1zM16 43h1v1h-1zM36 43h1v1h-1z"/><path fill="#3c3072" d="M23 5h1v1h-1zM29 9h1v1h-1zM15 10h1v1h-1zM27 10h1v1h-1zM37 10h1v1h-1zM17 11h1v1h-1zM36 11h1v1h-1zM15 12h1v1h-1zM17 13h1v1h-1zM32 13h1v1h-1zM13 17h1v1h-1zM15 17h1v1h-1zM26 18h1v1h-1zM9 19h1v1h-1zM37 19h1v1h-1zM42 19h1v1h-1zM34 21h1v1h-1zM23 23h1v1h-1zM38 26h1v1h-1zM11 27h1v1h-1zM17 27h1v1h-1zM22 27h1v1h-1zM36 27h1v1h-1zM31 30h1v1h-1zM39 31h1v1h-1zM14 33h1v1h-1zM18 33h1v1h-1zM39 35h1v1h-1zM30 36h1v1h-1zM14 37h1v1h-1zM22 37h1v1h-1zM27 38h1v1h-1zM17 39h1v1h-1zM36 39h1v1h-1zM21 41h1v1h-1zM22 42h1v1h-1z"/><path fill="#48427e" d="M24 5h1v1h-1zM31 7h1v1h-1zM26 8h1v1h-1zM36 8h1v1h-1zM33 10h1v1h-1zM15 11h1v1h-1zM34 11h1v1h-1zM37 11h1v1h-1zM18 16h1v1h-1zM20 17h1v1h-1zM18 18h1v1h-1zM44 20h1v1h-1zM16 21h1v1h-1zM32 21h1v1h-1zM11 22h1v1h-1zM30 23h1v1h-1zM43 23h1v1h-1zM19 24h1v1h-1zM9 25h1v1h-1zM17 26h1v1h-1zM24 26h1v1h-1zM14 28h1v1h-1zM32 29h1v1h-1zM43 29h1v1h-1zM41 30h1v1h-1zM19 31h1v1h-1zM27 31h1v1h-1zM38 33h1v1h-1zM20 35h1v1h-1zM22 39h1v1h-1zM32 40h1v1h-1zM31 41h1v1h-1zM36 42h1v1h-1zM28 43h1v1h-1zM34 43h1v1h-1zM25 45h1v1h-1z"/><path fill="#8a84ba" d="M26 5h1v1h-1zM33 6h1v1h-1zM18 8h1v1h-1zM36 9h1v1h-1zM14 10h1v1h-1zM20 10h1v1h-1zM26 10h1v1h-1zM14 11h1v1h-1zM12 13h1v1h-1zM30 15h1v1h-1zM24 16h1v1h-1zM32 16h1v1h-1zM35 18h1v1h-1zM17 19h1v1h-1zM15 20h1v1h-1zM33 20h1v1h-1zM36 20h1v1h-1zM42 20h1v1h-1zM13 21h1v1h-1zM28 21h1v1h-1zM39 21h1v1h-1zM42 21h1v1h-1zM34 22h1v1h-1zM8 23h1v1h-1zM11 24h1v1h-1zM34 24h1v1h-1zM26 25h1v1h-1zM28 25h2v1h-2zM38 25h1v1h-1zM42 25h1v1h-1zM30 26h1v1h-1zM9 28h1v1h-1zM12 28h2v1h-2zM21 28h1v1h-1zM13 29h1v1h-1zM23 29h1v1h-1zM35 29h1v1h-1zM12 30h2v1h-2zM43 31h1v1h-1zM37 32h1v1h-1zM40 33h1v1h-1zM11 34h1v1h-1zM23 34h1v1h-1zM34 35h1v1h-1zM13 36h1v1h-1zM16 36h1v1h-1zM22 36h1v1h-1zM28 36h1v1h-1zM32 36h1v1h-1zM24 37h1v1h-1zM39 37h1v1h-1zM21 38h2v1h-2zM25 38h1v1h-1zM15 39h1v1h-1zM33 39h1v1h-1zM35 39h1v1h-1zM39 39h1v1h-1zM17 40h1v1h-1zM23 40h1v1h-1zM34 40h2v1h-2zM30 41h1v1h-1zM33 42h1v1h-1z"/><path fill="#908ac0" d="M28 5h1v1h-1zM28 8h2v1h-2zM34 9h1v1h-1zM14 12h1v1h-1zM23 12h1v1h-1zM21 13h1v1h-1zM17 15h1v1h-1zM17 17h1v1h-1zM25 18h1v1h-1zM31 19h1v1h-1zM20 21h1v1h-1zM39 23h1v1h-1zM32 25h1v1h-1zM37 25h1v1h-1zM43 25h1v1h-1zM29 28h1v1h-1zM32 28h1v1h-1zM40 28h1v1h-1zM24 29h1v1h-1zM17 32h1v1h-1zM26 32h1v1h-1zM14 34h1v1h-1zM27 34h1v1h-1zM32 34h1v1h-1zM39 34h1v1h-1zM36 36h1v1h-1zM26 37h1v1h-1zM36 38h1v1h-1zM18 40h1v1h-1zM31 40h1v1h-1zM24 42h1v1h-1zM26 42h1v1h-1z"/><path fill="#66609c" d="M29 5h1v1h-1zM31 6h1v1h-1zM26 7h1v1h-1zM34 7h1v1h-1zM30 9h1v1h-1zM40 13h1v1h-1zM14 14h1v1h-1zM16 14h1v1h-1zM23 14h1v1h-1zM41 15h1v1h-1zM29 16h1v1h-1zM40 16h1v1h-1zM35 17h1v1h-1zM17 18h1v1h-1zM18 21h1v1h-1zM25 21h1v1h-1zM26 22h1v1h-1zM42 22h1v1h-1zM24 23h1v1h-1zM10 24h1v1h-1zM18 24h1v1h-1zM20 25h1v1h-1zM34 25h1v1h-1zM45 27h1v1h-1zM19 28h1v1h-1zM30 28h1v1h-1zM21 31h1v1h-1zM14 32h1v1h-1zM20 32h1v1h-1zM24 32h1v1h-1zM16 33h1v1h-1zM29 34h1v1h-1zM36 34h1v1h-1zM43 34h1v1h-1zM15 37h1v1h-1zM34 42h1v1h-1z"/><path fill="#9c96c0" d="M34 5h1v1h-1zM6 30h1v1h-1z"/><path fill="#c0c6e4" d="M14 6h1v1h-1zM46 30h1v1h-1zM43 38h1v1h-1z"/><path fill="#a29cc6" d="M17 6h1v1h-1zM14 7h1v1h-1zM8 14h1v1h-1zM46 23h1v1h-1z"/><path fill="#7e78ae" d="M18 6h1v1h-1zM34 6h1v1h-1zM35 7h1v1h-1zM20 9h1v1h-1zM39 9h1v1h-1zM19 10h1v1h-1zM32 10h1v1h-1zM22 12h1v1h-1zM18 14h2v1h-2zM24 14h1v1h-1zM31 15h1v1h-1zM33 15h1v1h-1zM36 15h1v1h-1zM37 16h1v1h-1zM11 17h1v1h-1zM34 17h1v1h-1zM9 18h1v1h-1zM28 18h1v1h-1zM19 19h1v1h-1zM23 19h1v1h-1zM8 22h1v1h-1zM21 22h1v1h-1zM31 22h1v1h-1zM35 22h1v1h-1zM25 23h1v1h-1zM29 24h1v1h-1zM42 24h1v1h-1zM16 25h1v1h-1zM27 25h1v1h-1zM16 26h1v1h-1zM20 29h1v1h-1zM31 29h1v1h-1zM41 33h1v1h-1zM43 33h1v1h-1zM15 34h1v1h-1zM17 34h1v1h-1zM40 34h1v1h-1zM31 35h1v1h-1zM35 35h1v1h-1zM21 36h1v1h-1zM40 36h1v1h-1zM20 37h1v1h-1zM23 37h1v1h-1zM38 37h1v1h-1zM21 40h2v1h-2zM26 40h1v1h-1zM30 40h1v1h-1zM17 41h1v1h-1zM21 43h1v1h-1zM18 44h1v1h-1zM27 45h1v1h-1z"/><path fill="#605490" d="M19 6h1v1h-1zM25 11h1v1h-1zM11 14h1v1h-1zM30 14h1v1h-1zM36 14h1v1h-1zM12 19h1v1h-1zM15 19h1v1h-1zM11 23h1v1h-1zM35 26h1v1h-1zM18 28h1v1h-1zM40 30h1v1h-1zM31 31h1v1h-1zM34 31h1v1h-1zM41 31h1v1h-1zM18 35h1v1h-1zM37 36h1v1h-1zM19 37h1v1h-1zM24 43h1v1h-1z"/><path fill="#7e78b4" d="M20 6h1v1h-1zM18 10h1v1h-1zM42 14h1v1h-1zM44 18h1v1h-1zM15 22h1v1h-1zM31 26h1v1h-1zM18 29h1v1h-1zM25 30h1v1h-1zM42 31h1v1h-1zM26 33h1v1h-1zM34 34h1v1h-1zM39 38h1v1h-1zM16 40h1v1h-1zM19 41h1v1h-1z"/><path fill="#726ca2" d="M21 6h1v1h-1zM19 7h1v1h-1zM33 7h1v1h-1zM33 9h1v1h-1zM40 11h1v1h-1zM26 12h1v1h-1zM37 12h2v1h-2zM24 13h1v1h-1zM30 13h1v1h-1zM15 14h1v1h-1zM33 14h1v1h-1zM13 16h1v1h-1zM8 17h1v1h-1zM16 17h1v1h-1zM23 17h1v1h-1zM25 17h2v1h-2zM22 18h1v1h-1zM27 18h1v1h-1zM30 18h1v1h-1zM40 19h1v1h-1zM11 20h1v1h-1zM40 20h1v1h-1zM43 21h1v1h-1zM28 22h1v1h-1zM39 22h1v1h-1zM44 22h1v1h-1zM35 24h1v1h-1zM10 25h3v1h-3zM14 25h2v1h-2zM23 26h1v1h-1zM9 29h1v1h-1zM44 29h2v1h-2zM8 30h1v1h-1zM11 30h1v1h-1zM10 31h1v1h-1zM16 31h1v1h-1zM30 31h1v1h-1zM30 32h1v1h-1zM13 33h1v1h-1zM30 33h1v1h-1zM34 33h1v1h-1zM36 33h1v1h-1zM9 35h1v1h-1zM19 36h1v1h-1zM18 38h1v1h-1zM14 40h1v1h-1zM25 40h1v1h-1zM39 40h1v1h-1zM26 41h1v1h-1zM32 43h2v1h-2zM26 45h1v1h-1z"/><path fill="#605a90" d="M22 6h1v1h-1zM16 8h1v1h-1zM28 9h1v1h-1zM35 9h1v1h-1zM17 10h1v1h-1zM12 11h1v1h-1zM32 17h1v1h-1zM32 19h1v1h-1zM36 21h1v1h-1zM41 22h1v1h-1zM36 24h1v1h-1zM25 27h1v1h-1zM40 27h1v1h-1zM8 29h1v1h-1zM16 30h1v1h-1zM8 31h1v1h-1zM14 31h1v1h-1zM18 31h1v1h-1zM23 33h1v1h-1zM33 33h1v1h-1zM15 36h1v1h-1zM33 37h1v1h-1zM42 37h1v1h-1zM33 38h1v1h-1zM26 43h1v1h-1z"/><path fill="#423678" d="M23 6h1v1h-1zM16 10h1v1h-1zM24 10h1v1h-1zM12 12h1v1h-1zM19 12h1v1h-1zM25 12h1v1h-1zM28 12h1v1h-1zM20 13h1v1h-1zM27 14h1v1h-1zM20 18h1v1h-1zM29 19h1v1h-1zM44 19h1v1h-1zM30 22h1v1h-1zM14 23h1v1h-1zM32 24h1v1h-1zM40 24h2v1h-2zM44 24h1v1h-1zM12 26h1v1h-1zM14 26h1v1h-1zM10 28h2v1h-2zM45 28h1v1h-1zM26 29h1v1h-1zM43 30h1v1h-1zM12 34h1v1h-1zM18 34h1v1h-1zM16 35h1v1h-1zM27 36h1v1h-1zM34 38h1v1h-1zM40 39h1v1h-1zM19 40h1v1h-1zM23 43h1v1h-1z"/><path fill="#8484ba" d="M25 6h1v1h-1zM27 6h1v1h-1zM22 7h1v1h-1zM41 13h1v1h-1zM40 14h1v1h-1zM10 20h1v1h-1zM27 24h1v1h-1zM33 25h1v1h-1zM26 26h1v1h-1zM28 26h1v1h-1zM37 26h1v1h-1zM38 27h1v1h-1zM28 29h1v1h-1zM21 30h1v1h-1zM23 31h1v1h-1zM28 31h1v1h-1zM39 33h1v1h-1zM25 42h1v1h-1z"/><path fill="#8a8aba" d="M26 6h1v1h-1zM37 8h1v1h-1zM14 9h1v1h-1zM23 18h1v1h-1zM24 19h1v1h-1zM15 32h1v1h-1zM15 33h1v1h-1zM10 35h1v1h-1zM16 39h1v1h-1zM17 43h1v1h-1zM28 46h1v1h-1z"/><path fill="#7872ae" d="M29 6h1v1h-1zM26 9h1v1h-1zM30 11h1v1h-1zM33 12h2v1h-2zM34 14h1v1h-1zM14 21h1v1h-1zM37 22h1v1h-1zM32 23h1v1h-1zM10 26h1v1h-1zM44 27h1v1h-1zM39 28h1v1h-1zM42 30h1v1h-1zM32 31h1v1h-1zM37 31h1v1h-1zM10 32h1v1h-1zM32 35h1v1h-1zM28 41h1v1h-1zM29 43h1v1h-1z"/><path fill="#3c3672" d="M30 6h1v1h-1zM18 7h1v1h-1zM20 8h1v1h-1zM18 9h1v1h-1zM30 10h1v1h-1zM35 10h1v1h-1zM31 11h1v1h-1zM13 12h1v1h-1zM34 15h1v1h-1zM40 15h1v1h-1zM42 15h1v1h-1zM41 16h1v1h-1zM43 16h1v1h-1zM31 18h1v1h-1zM36 22h1v1h-1zM43 22h1v1h-1zM45 22h1v1h-1zM31 23h1v1h-1zM20 24h1v1h-1zM25 26h1v1h-1zM9 27h1v1h-1zM15 27h1v1h-1zM32 30h1v1h-1zM38 30h1v1h-1zM22 34h1v1h-1zM25 34h2v1h-2zM40 35h1v1h-1zM14 36h1v1h-1zM17 37h1v1h-1zM28 37h1v1h-1zM33 40h1v1h-1zM32 41h1v1h-1z"/><path fill="#302466" d="M32 6h1v1h-1zM27 9h1v1h-1zM26 14h1v1h-1zM36 17h1v1h-1zM40 18h1v1h-1zM20 22h1v1h-1zM17 23h1v1h-1zM26 23h1v1h-1zM29 23h1v1h-1zM38 24h1v1h-1zM35 28h1v1h-1zM31 42h1v1h-1z"/><path fill="#c0c0d8" d="M11 7h1v1h-1zM4 19h1v1h-1zM40 43h1v1h-1z"/><path fill="#a2a2c6" d="M15 7h1v1h-1zM42 12h1v1h-1zM8 13h1v1h-1zM7 19h1v1h-1zM5 22h1v1h-1zM6 29h1v1h-1zM5 30h1v1h-1zM44 35h1v1h-1zM43 37h1v1h-1zM11 41h1v1h-1zM17 44h1v1h-1zM22 46h1v1h-1zM33 46h1v1h-1zM23 47h1v1h-1z"/><path fill="#a29ccc" d="M16 7h1v1h-1zM34 44h1v1h-1zM23 45h1v1h-1z"/><path fill="#483c78" d="M23 7h1v1h-1zM30 7h1v1h-1zM32 12h1v1h-1zM23 15h1v1h-1zM26 16h1v1h-1zM33 19h1v1h-1zM27 23h1v1h-1zM8 24h1v1h-1zM36 25h1v1h-1zM40 25h1v1h-1zM24 27h1v1h-1zM27 27h1v1h-1zM39 29h1v1h-1zM35 32h1v1h-1zM35 33h1v1h-1zM20 34h1v1h-1zM25 35h1v1h-1zM30 35h1v1h-1zM29 38h1v1h-1zM17 42h1v1h-1zM22 44h1v1h-1zM25 44h1v1h-1z"/><path fill="#4e4884" d="M24 7h1v1h-1zM23 8h1v1h-1zM31 8h1v1h-1zM36 10h1v1h-1zM19 11h1v1h-1zM29 11h1v1h-1zM13 13h1v1h-1zM17 14h1v1h-1zM35 14h1v1h-1zM32 15h1v1h-1zM14 16h1v1h-1zM19 16h1v1h-1zM30 16h1v1h-1zM29 17h1v1h-1zM22 19h1v1h-1zM36 19h1v1h-1zM28 20h1v1h-1zM39 20h1v1h-1zM22 21h1v1h-1zM27 21h1v1h-1zM27 22h1v1h-1zM10 23h1v1h-1zM12 23h1v1h-1zM9 24h1v1h-1zM33 24h1v1h-1zM39 24h1v1h-1zM21 29h2v1h-2zM30 29h1v1h-1zM36 30h1v1h-1zM40 31h1v1h-1zM28 32h1v1h-1zM27 33h1v1h-1zM38 34h1v1h-1zM17 35h1v1h-1zM29 35h1v1h-1zM41 35h1v1h-1zM29 36h1v1h-1zM30 37h1v1h-1zM35 37h1v1h-1zM19 38h1v1h-1zM32 38h1v1h-1zM35 38h1v1h-1zM40 38h1v1h-1zM14 39h1v1h-1zM27 39h1v1h-1zM35 41h1v1h-1zM38 41h1v1h-1zM28 45h1v1h-1z"/><path fill="#666096" d="M25 7h1v1h-1zM28 7h2v1h-2zM14 8h1v1h-1zM39 10h1v1h-1zM16 11h1v1h-1zM32 11h1v1h-1zM38 11h1v1h-1zM27 12h1v1h-1zM11 13h1v1h-1zM22 13h1v1h-1zM25 13h1v1h-1zM35 13h1v1h-1zM9 15h1v1h-1zM27 15h1v1h-1zM39 16h1v1h-1zM41 17h1v1h-1zM23 20h1v1h-1zM37 20h1v1h-1zM45 21h1v1h-1zM13 22h1v1h-1zM25 22h1v1h-1zM40 22h1v1h-1zM18 23h1v1h-1zM23 25h1v1h-1zM18 26h1v1h-1zM29 26h1v1h-1zM8 27h1v1h-1zM30 27h1v1h-1zM37 27h1v1h-1zM17 28h1v1h-1zM25 28h1v1h-1zM24 33h1v1h-1zM37 35h1v1h-1zM24 36h1v1h-1zM36 37h1v1h-1zM12 39h1v1h-1zM22 41h1v1h-1zM19 42h1v1h-1zM37 42h1v1h-1zM32 45h1v1h-1z"/><path fill="#544884" d="M27 7h1v1h-1zM10 14h1v1h-1zM29 15h1v1h-1zM25 16h1v1h-1zM36 16h1v1h-1zM38 18h1v1h-1zM21 19h1v1h-1zM9 21h1v1h-1zM24 21h1v1h-1zM15 26h1v1h-1zM19 26h2v1h-2zM36 26h1v1h-1zM43 27h1v1h-1zM15 29h1v1h-1zM24 30h1v1h-1zM26 31h1v1h-1zM31 37h1v1h-1zM41 37h1v1h-1zM27 40h1v1h-1zM20 44h1v1h-1z"/><path fill="#36306c" d="M32 7h1v1h-1zM17 8h1v1h-1zM38 9h1v1h-1zM37 14h1v1h-1zM15 16h1v1h-1zM27 17h1v1h-1zM44 28h1v1h-1zM33 29h1v1h-1zM37 29h1v1h-1zM40 29h1v1h-1zM35 31h1v1h-1zM19 33h1v1h-1zM28 33h1v1h-1zM23 35h1v1h-1zM32 37h1v1h-1zM28 38h1v1h-1zM30 38h1v1h-1zM32 39h1v1h-1z"/><path fill="#9690c0" d="M37 7h1v1h-1zM10 15h1v1h-1zM11 38h1v1h-1zM12 40h1v1h-1z"/><path fill="#aea8d2" d="M13 8h1v1h-1zM7 18h1v1h-1z"/><path fill="#9696c6" d="M15 8h1v1h-1z"/><path fill="#8a8ac0" d="M19 8h1v1h-1zM35 11h1v1h-1zM19 17h1v1h-1zM29 18h1v1h-1zM41 21h1v1h-1zM23 24h1v1h-1zM31 25h1v1h-1zM17 31h1v1h-1zM43 32h1v1h-1zM37 37h1v1h-1zM35 42h1v1h-1z"/><path fill="#6c66a2" d="M21 8h1v1h-1zM30 8h1v1h-1zM24 11h1v1h-1zM33 11h1v1h-1zM17 12h1v1h-1zM24 12h1v1h-1zM30 12h1v1h-1zM36 13h1v1h-1zM21 14h1v1h-1zM35 15h1v1h-1zM42 16h1v1h-1zM10 17h1v1h-1zM22 17h1v1h-1zM13 18h1v1h-1zM18 20h2v1h-2zM17 21h1v1h-1zM17 22h1v1h-1zM15 23h1v1h-1zM21 25h1v1h-1zM32 26h1v1h-1zM29 27h1v1h-1zM11 29h1v1h-1zM19 29h1v1h-1zM15 30h1v1h-1zM27 30h2v1h-2zM37 30h1v1h-1zM44 31h1v1h-1zM33 34h1v1h-1zM19 35h1v1h-1zM20 41h1v1h-1zM34 41h1v1h-1zM28 42h1v1h-1zM23 44h2v1h-2z"/><path fill="#5a5490" d="M25 8h1v1h-1zM21 10h1v1h-1zM27 11h1v1h-1zM36 12h1v1h-1zM18 13h1v1h-1zM18 15h1v1h-1zM43 15h1v1h-1zM9 16h1v1h-1zM31 16h1v1h-1zM35 16h1v1h-1zM21 17h1v1h-1zM37 17h1v1h-1zM15 18h1v1h-1zM32 18h1v1h-1zM11 19h1v1h-1zM17 20h1v1h-1zM22 20h1v1h-1zM29 20h1v1h-1zM32 20h1v1h-1zM8 21h1v1h-1zM11 21h1v1h-1zM15 21h1v1h-1zM9 23h1v1h-1zM19 23h1v1h-1zM25 24h1v1h-1zM31 24h1v1h-1zM17 25h1v1h-1zM26 27h1v1h-1zM34 27h1v1h-1zM16 28h1v1h-1zM25 29h1v1h-1zM38 29h1v1h-1zM18 30h1v1h-1zM20 30h1v1h-1zM34 30h1v1h-1zM11 31h1v1h-1zM33 31h1v1h-1zM21 32h1v1h-1zM33 32h1v1h-1zM38 32h1v1h-1zM30 34h1v1h-1zM26 35h1v1h-1zM42 35h1v1h-1zM33 36h1v1h-1zM13 37h1v1h-1zM25 39h2v1h-2zM29 39h1v1h-1zM20 43h1v1h-1zM30 44h1v1h-1zM32 44h1v1h-1z"/><path fill="#665a96" d="M33 8h1v1h-1zM13 10h1v1h-1zM31 13h1v1h-1zM21 16h2v1h-2zM10 18h1v1h-1zM25 20h1v1h-1zM40 21h1v1h-1zM23 22h1v1h-1zM40 23h1v1h-1zM18 25h1v1h-1zM33 26h1v1h-1zM44 30h1v1h-1zM12 32h1v1h-1zM41 38h1v1h-1z"/><path fill="#423672" d="M34 8h1v1h-1zM17 16h1v1h-1zM43 18h1v1h-1zM16 19h1v1h-1zM39 19h1v1h-1zM23 21h1v1h-1zM30 24h1v1h-1zM31 32h1v1h-1zM29 33h1v1h-1zM29 41h1v1h-1z"/><path fill="#847eba" d="M35 8h1v1h-1zM37 15h1v1h-1zM35 25h1v1h-1zM24 40h1v1h-1z"/><path fill="#8484b4" d="M38 8h1v1h-1zM15 13h1v1h-1zM8 20h1v1h-1zM8 34h1v1h-1z"/><path fill="#362a6c" d="M16 9h1v1h-1zM22 10h1v1h-1zM22 11h1v1h-1zM16 12h1v1h-1zM35 12h1v1h-1zM14 13h1v1h-1zM23 13h1v1h-1zM20 14h1v1h-1zM16 16h1v1h-1zM34 18h1v1h-1zM30 19h1v1h-1zM21 20h1v1h-1zM27 20h1v1h-1zM12 21h1v1h-1zM10 22h1v1h-1zM42 23h1v1h-1zM45 23h1v1h-1zM14 24h1v1h-1zM24 25h1v1h-1zM21 27h1v1h-1zM33 27h1v1h-1zM15 28h1v1h-1zM23 28h1v1h-1zM36 28h1v1h-1zM41 29h1v1h-1zM17 30h1v1h-1zM33 30h1v1h-1zM20 31h1v1h-1zM22 35h1v1h-1zM12 36h1v1h-1zM27 37h1v1h-1zM34 37h1v1h-1zM31 38h1v1h-1zM37 40h1v1h-1zM27 41h1v1h-1zM27 42h1v1h-1zM25 43h1v1h-1zM28 44h1v1h-1z"/><path fill="#4e427e" d="M32 9h1v1h-1zM25 10h1v1h-1zM39 12h1v1h-1zM38 13h1v1h-1zM39 14h1v1h-1zM20 15h1v1h-1zM12 17h1v1h-1zM19 18h1v1h-1zM12 20h1v1h-1zM31 21h1v1h-1zM34 26h1v1h-1zM28 27h1v1h-1zM42 29h1v1h-1zM41 34h1v1h-1zM31 36h1v1h-1zM38 38h1v1h-1z"/><path fill="#302a66" d="M37 9h1v1h-1zM25 14h1v1h-1zM32 14h1v1h-1zM41 14h1v1h-1zM26 15h1v1h-1zM20 16h1v1h-1zM26 21h1v1h-1zM18 22h1v1h-1zM33 23h1v1h-1zM39 26h1v1h-1zM43 28h1v1h-1zM35 30h1v1h-1zM23 39h1v1h-1zM30 42h1v1h-1zM30 43h1v1h-1z"/><path fill="#7266a2" d="M29 10h1v1h-1zM20 33h1v1h-1zM23 41h1v1h-1z"/><path fill="#7878ae" d="M38 10h1v1h-1zM15 24h1v1h-1zM29 37h1v1h-1z"/><path fill="#7e7eb4" d="M21 11h1v1h-1zM43 19h1v1h-1zM14 20h1v1h-1zM33 21h1v1h-1zM16 27h1v1h-1zM39 30h1v1h-1z"/><path fill="#483c7e" d="M39 11h1v1h-1zM28 16h1v1h-1zM20 20h1v1h-1zM34 23h1v1h-1zM17 24h1v1h-1zM28 28h1v1h-1zM16 29h2v1h-2zM25 31h1v1h-1zM37 33h1v1h-1zM21 35h1v1h-1zM28 35h1v1h-1zM41 36h1v1h-1zM19 39h1v1h-1zM31 39h1v1h-1zM15 40h1v1h-1zM20 40h1v1h-1zM36 41h1v1h-1zM23 42h1v1h-1zM22 43h1v1h-1z"/><path fill="#7e7ea8" d="M10 12h1v1h-1z"/><path fill="#5a548a" d="M11 12h1v1h-1zM19 13h1v1h-1zM25 19h1v1h-1zM26 20h1v1h-1zM13 25h1v1h-1zM23 30h1v1h-1zM11 33h1v1h-1zM37 38h1v1h-1z"/><path fill="#6c609c" d="M41 12h1v1h-1zM14 17h1v1h-1zM14 19h1v1h-1zM16 22h1v1h-1zM16 24h1v1h-1zM21 34h1v1h-1zM40 37h1v1h-1zM26 38h1v1h-1z"/><path fill="#9c9cc0" d="M9 13h1v1h-1zM6 18h1v1h-1zM7 34h1v1h-1zM15 44h1v1h-1zM18 45h1v1h-1zM26 47h1v1h-1zM29 47h1v1h-1z"/><path fill="#3c306c" d="M16 13h1v1h-1zM13 14h1v1h-1zM14 15h1v1h-1zM42 34h1v1h-1zM37 39h1v1h-1z"/><path fill="#5a4e8a" d="M29 13h1v1h-1zM22 14h1v1h-1zM24 17h1v1h-1zM31 17h1v1h-1zM9 20h1v1h-1zM30 20h1v1h-1zM19 21h1v1h-1zM44 21h1v1h-1zM8 25h1v1h-1zM19 25h1v1h-1zM31 27h1v1h-1zM10 29h1v1h-1zM26 30h1v1h-1zM36 31h1v1h-1zM18 37h1v1h-1zM21 37h1v1h-1z"/><path fill="#9090c0" d="M37 13h1v1h-1zM43 20h1v1h-1zM35 27h1v1h-1zM9 31h1v1h-1zM17 36h1v1h-1zM25 36h2v1h-2zM38 40h1v1h-1z"/><path fill="#8a8ab4" d="M9 14h1v1h-1zM7 23h1v1h-1zM6 26h1v1h-1zM11 39h1v1h-1zM11 40h1v1h-1zM12 41h2v1h-2zM34 45h1v1h-1zM31 46h1v1h-1z"/><path fill="#b4aed2" d="M6 17h1v1h-1z"/><path fill="#ccccea" d="M4 18h1v1h-1zM38 45h1v1h-1z"/><path fill="#7872a2" d="M8 18h1v1h-1zM16 42h1v1h-1z"/><path fill="#9696ba" d="M6 19h1v1h-1z"/><path fill="#4e4284" d="M13 19h1v1h-1zM38 21h1v1h-1zM12 22h1v1h-1zM21 26h1v1h-1zM42 26h1v1h-1zM39 27h1v1h-1zM41 28h1v1h-1zM29 29h1v1h-1zM19 30h1v1h-1z"/><path fill="#54488a" d="M34 19h1v1h-1zM13 23h1v1h-1zM29 30h1v1h-1z"/><path fill="#786ca8" d="M31 20h1v1h-1z"/><path fill="#bac0d8" d="M3 21h1v1h-1zM3 23h1v1h-1zM4 32h1v1h-1zM9 43h1v1h-1zM36 46h1v1h-1zM22 49h1v1h-1z"/><path fill="#9c96c6" d="M7 22h1v1h-1zM9 32h1v1h-1zM15 42h1v1h-1zM35 43h1v1h-1z"/><path fill="#544e84" d="M9 22h1v1h-1z"/><path fill="#aeb4d2" d="M4 25h1v1h-1zM14 45h1v1h-1z"/><path fill="#8484ae" d="M6 25h1v1h-1z"/><path fill="#726c9c" d="M7 27h1v1h-1zM23 46h1v1h-1z"/><path fill="#aeaecc" d="M4 28h1v1h-1zM6 34h1v1h-1zM44 36h1v1h-1zM9 40h1v1h-1zM15 45h1v1h-1zM32 47h1v1h-1z"/><path fill="#847eae" d="M7 28h1v1h-1zM45 31h1v1h-1zM18 43h1v1h-1z"/><path fill="#2a1e60" d="M12 29h1v1h-1z"/><path fill="#9690c6" d="M32 32h1v1h-1zM31 34h1v1h-1zM38 36h1v1h-1z"/><path fill="#c0c0e4" d="M6 33h1v1h-1z"/><path fill="#aeaed8" d="M20 46h1v1h-1z"/><path fill="#6c6c9c" d="M24 46h1v1h-1z"/><path fill="#b4b4de" d="M30 46h1v1h-1z"/><path fill="#d8def6" d="M30 52h1v1h-1z"/></g></g></g></g><g clip-path="url(#cr1)"><rect x="126" y="198" width="33.6" height="29" fill="url(#gob)"/><rect x="159.6" y="198" width="32.1" height="29" fill="url(#god)"/><rect x="191.7" y="198" width="30.3" height="29" fill="url(#gob)"/><rect x="126" y="227" width="33.6" height="26" fill="url(#gob)"/><rect x="159.6" y="227" width="32.1" height="26" fill="url(#gob)"/><rect x="191.7" y="227" width="30.3" height="26" fill="url(#gob)"/><rect x="126" y="253" width="33.6" height="27" fill="url(#gob)"/><rect x="159.6" y="253" width="32.1" height="27" fill="url(#gob)"/><rect x="191.7" y="253" width="30.3" height="27" fill="url(#gob)"/><rect x="126" y="280" width="33.6" height="26" fill="url(#gob)"/><rect x="159.6" y="280" width="32.1" height="26" fill="url(#gob)"/><rect x="191.7" y="280" width="30.3" height="26" fill="url(#gob)"/><ellipse cx="175" cy="252.3" rx="47.199999999999996" ry="52.699999999999996" fill="none" stroke="#6e7698" stroke-width="2.6" opacity="0.5" filter="url(#blur1)"/><g clip-path="url(#ce1)"><rect x="126" y="198" width="33.6" height="29" fill="url(#gib)"/><rect x="159.6" y="198" width="32.1" height="29" fill="url(#gib2)"/><rect x="191.7" y="198" width="30.3" height="29" fill="url(#gib)"/><rect x="126" y="227" width="33.6" height="26" fill="url(#gis)"/><rect x="159.6" y="227" width="32.1" height="26" fill="url(#gim)"/><rect x="191.7" y="227" width="30.3" height="26" fill="url(#gis)"/><rect x="126" y="253" width="33.6" height="27" fill="url(#gis)"/><rect x="159.6" y="253" width="32.1" height="27" fill="url(#gim)"/><rect x="191.7" y="253" width="30.3" height="27" fill="url(#gis)"/><rect x="126" y="280" width="33.6" height="26" fill="url(#gib)"/><rect x="159.6" y="280" width="32.1" height="26" fill="url(#gim)"/><rect x="191.7" y="280" width="30.3" height="26" fill="url(#gib)"/></g><circle cx="175.4" cy="241.9" r="0.75" fill="#4c4a86" opacity="0.80"/><circle cx="184.5" cy="290.9" r="0.54" fill="#4c4a86" opacity="0.74"/><circle cx="169.2" cy="237.4" r="0.81" fill="#4c4a86" opacity="0.42"/><circle cx="137.9" cy="267.2" r="0.74" fill="#4c4a86" opacity="0.72"/><circle cx="147.7" cy="223.2" r="0.65" fill="#4c4a86" opacity="0.55"/><circle cx="210.3" cy="269.0" r="0.51" fill="#4c4a86" opacity="0.49"/></g><g clip-path="url(#cr2)"><rect x="229" y="198" width="33.6" height="29" fill="url(#gob)"/><rect x="262.6" y="198" width="32.1" height="29" fill="url(#god)"/><rect x="294.7" y="198" width="30.3" height="29" fill="url(#gob)"/><rect x="229" y="227" width="33.6" height="26" fill="url(#gob)"/><rect x="262.6" y="227" width="32.1" height="26" fill="url(#gob)"/><rect x="294.7" y="227" width="30.3" height="26" fill="url(#gob)"/><rect x="229" y="253" width="33.6" height="27" fill="url(#gob)"/><rect x="262.6" y="253" width="32.1" height="27" fill="url(#gob)"/><rect x="294.7" y="253" width="30.3" height="27" fill="url(#gob)"/><rect x="229" y="280" width="33.6" height="26" fill="url(#gob)"/><rect x="262.6" y="280" width="32.1" height="26" fill="url(#gob)"/><rect x="294.7" y="280" width="30.3" height="26" fill="url(#gob)"/><ellipse cx="279" cy="252.8" rx="46.8" ry="52.8" fill="none" stroke="#6e7698" stroke-width="2.6" opacity="0.5" filter="url(#blur1)"/><g clip-path="url(#ce2)"><rect x="229" y="198" width="33.6" height="29" fill="url(#gib)"/><rect x="262.6" y="198" width="32.1" height="29" fill="url(#gib2)"/><rect x="294.7" y="198" width="30.3" height="29" fill="url(#gib)"/><rect x="229" y="227" width="33.6" height="26" fill="url(#gis)"/><rect x="262.6" y="227" width="32.1" height="26" fill="url(#gim)"/><rect x="294.7" y="227" width="30.3" height="26" fill="url(#gis)"/><rect x="229" y="253" width="33.6" height="27" fill="url(#gis)"/><rect x="262.6" y="253" width="32.1" height="27" fill="url(#gim)"/><rect x="294.7" y="253" width="30.3" height="27" fill="url(#gis)"/><rect x="229" y="280" width="33.6" height="26" fill="url(#gib)"/><rect x="262.6" y="280" width="32.1" height="26" fill="url(#gim)"/><rect x="294.7" y="280" width="30.3" height="26" fill="url(#gib)"/></g><circle cx="295.9" cy="247.8" r="0.83" fill="#4c4a86" opacity="0.53"/><circle cx="275.4" cy="260.3" r="0.51" fill="#4c4a86" opacity="0.56"/><circle cx="297.6" cy="289.5" r="0.75" fill="#4c4a86" opacity="0.69"/><circle cx="286.5" cy="253.5" r="0.65" fill="#4c4a86" opacity="0.52"/><circle cx="258.0" cy="281.9" r="0.88" fill="#4c4a86" opacity="0.60"/><circle cx="313.8" cy="266.5" r="0.89" fill="#4c4a86" opacity="0.42"/></g><g clip-path="url(#cr3)"><rect x="332" y="198" width="33.6" height="29" fill="url(#gob)"/><rect x="365.6" y="198" width="32.1" height="29" fill="url(#god)"/><rect x="397.7" y="198" width="30.3" height="29" fill="url(#gob)"/><rect x="332" y="227" width="33.6" height="26" fill="url(#gob)"/><rect x="365.6" y="227" width="32.1" height="26" fill="url(#gob)"/><rect x="397.7" y="227" width="30.3" height="26" fill="url(#gob)"/><rect x="332" y="253" width="33.6" height="27" fill="url(#gob)"/><rect x="365.6" y="253" width="32.1" height="27" fill="url(#gob)"/><rect x="397.7" y="253" width="30.3" height="27" fill="url(#gob)"/><rect x="332" y="280" width="33.6" height="26" fill="url(#gol)"/><rect x="365.6" y="280" width="32.1" height="26" fill="url(#gob)"/><rect x="397.7" y="280" width="30.3" height="26" fill="url(#gob)"/><ellipse cx="382.2" cy="253.7" rx="46.6" ry="52.3" fill="none" stroke="#6e7698" stroke-width="2.6" opacity="0.5" filter="url(#blur1)"/><g clip-path="url(#ce3)"><rect x="332" y="198" width="33.6" height="29" fill="url(#gib)"/><rect x="365.6" y="198" width="32.1" height="29" fill="url(#gib2)"/><rect x="397.7" y="198" width="30.3" height="29" fill="url(#gib)"/><rect x="332" y="227" width="33.6" height="26" fill="url(#gis)"/><rect x="365.6" y="227" width="32.1" height="26" fill="url(#gim)"/><rect x="397.7" y="227" width="30.3" height="26" fill="url(#gis)"/><rect x="332" y="253" width="33.6" height="27" fill="url(#gis)"/><rect x="365.6" y="253" width="32.1" height="27" fill="url(#gim)"/><rect x="397.7" y="253" width="30.3" height="27" fill="url(#gis)"/><rect x="332" y="280" width="33.6" height="26" fill="url(#gib)"/><rect x="365.6" y="280" width="32.1" height="26" fill="url(#gim)"/><rect x="397.7" y="280" width="30.3" height="26" fill="url(#gib)"/></g><circle cx="355.7" cy="271.0" r="0.80" fill="#4c4a86" opacity="0.50"/><circle cx="374.9" cy="218.4" r="0.57" fill="#4c4a86" opacity="0.68"/><circle cx="352.5" cy="242.9" r="0.78" fill="#4c4a86" opacity="0.77"/><circle cx="378.7" cy="294.9" r="0.62" fill="#4c4a86" opacity="0.52"/><circle cx="361.4" cy="251.9" r="0.75" fill="#4c4a86" opacity="0.79"/><circle cx="397.0" cy="259.2" r="0.55" fill="#4c4a86" opacity="0.79"/></g><line x1="20.5" y1="196" x2="20.5" y2="314" stroke="#111" stroke-width="1.8"/><line x1="124" y1="196" x2="124" y2="314" stroke="#111" stroke-width="1.8"/><line x1="227.2" y1="196" x2="227.2" y2="314" stroke="#111" stroke-width="1.8"/><line x1="330.3" y1="196" x2="330.3" y2="314" stroke="#111" stroke-width="1.8"/><line x1="433.4" y1="196" x2="433.4" y2="314" stroke="#111" stroke-width="1.8"/><line x1="20.5" y1="312.1" x2="433.4" y2="312.1" stroke="#111" stroke-width="2"/><text x="64.2" y="327.8" transform="rotate(90 64.2 327.8)" font-family="Liberation Sans, sans-serif" font-size="20.6" fill="#000">NY-ESO-1</text><text x="169.3" y="327.8" transform="rotate(90 169.3 327.8)" font-family="Liberation Sans, sans-serif" font-size="20.6" fill="#000">Flu</text><text x="276.1" y="327.8" transform="rotate(90 276.1 327.8)" font-family="Liberation Sans, sans-serif" font-size="20.6" fill="#000">No peptide</text><text x="378.9" y="327.8" transform="rotate(90 378.9 327.8)" font-family="Liberation Sans, sans-serif" font-size="20.6" fill="#000">Effector alone</text><text x="34.15" y="504" font-family="Liberation Sans, sans-serif" font-size="20.85" fill="#000">Effector: 50,000 cells</text><text x="34.15" y="529" font-family="Liberation Sans, sans-serif" font-size="20.85" fill="#000">Target: autologous T-APC, 100,000 cells</text><text x="34.15" y="554" font-family="Liberation Sans, sans-serif" font-size="20.85" fill="#000">Incubation time: 22 hrs</text><line x1="559.5" y1="451.42" x2="799.8" y2="451.42" stroke="#464646" stroke-width="1.6"/><line x1="559.5" y1="395.23" x2="799.8" y2="395.23" stroke="#464646" stroke-width="1.6"/><line x1="559.5" y1="339.05" x2="799.8" y2="339.05" stroke="#464646" stroke-width="1.6"/><line x1="559.5" y1="282.87" x2="799.8" y2="282.87" stroke="#464646" stroke-width="1.6"/><line x1="559.5" y1="226.68" x2="799.8" y2="226.68" stroke="#464646" stroke-width="1.6"/><line x1="559.5" y1="170.50" x2="799.8" y2="170.50" stroke="#464646" stroke-width="1.6"/><line x1="799.8" y1="169.90" x2="799.8" y2="507.60" stroke="#484848" stroke-width="1.6"/><line x1="556" y1="507.60" x2="559.5" y2="507.60" stroke="#111" stroke-width="1.3"/><text x="543.2" y="515.90" text-anchor="end" font-family="Liberation Sans, sans-serif" font-size="16.3" fill="#000">0</text><line x1="556" y1="451.42" x2="559.5" y2="451.42" stroke="#111" stroke-width="1.3"/><text x="549.2" y="459.72" text-anchor="end" font-family="Liberation Sans, sans-serif" font-size="16.3" fill="#000">100</text><line x1="556" y1="395.23" x2="559.5" y2="395.23" stroke="#111" stroke-width="1.3"/><text x="549.2" y="403.53" text-anchor="end" font-family="Liberation Sans, sans-serif" font-size="16.3" fill="#000">200</text><line x1="556" y1="339.05" x2="559.5" y2="339.05" stroke="#111" stroke-width="1.3"/><text x="549.2" y="347.35" text-anchor="end" font-family="Liberation Sans, sans-serif" font-size="16.3" fill="#000">300</text><line x1="556" y1="282.87" x2="559.5" y2="282.87" stroke="#111" stroke-width="1.3"/><text x="549.2" y="291.17" text-anchor="end" font-family="Liberation Sans, sans-serif" font-size="16.3" fill="#000">400</text><line x1="556" y1="226.68" x2="559.5" y2="226.68" stroke="#111" stroke-width="1.3"/><text x="549.2" y="234.98" text-anchor="end" font-family="Liberation Sans, sans-serif" font-size="16.3" fill="#000">500</text><line x1="556" y1="170.50" x2="559.5" y2="170.50" stroke="#111" stroke-width="1.3"/><text x="549.2" y="178.80" text-anchor="end" font-family="Liberation Sans, sans-serif" font-size="16.3" fill="#000">600</text><rect x="577.84" y="193.98" width="24.1" height="313.62" fill="#ff0000" stroke="#400" stroke-width="1.2"/><rect x="637.91" y="498.50" width="24.1" height="9.10" fill="#9999ff" stroke="#0c0c3c" stroke-width="1.2"/><rect x="697.99" y="495.91" width="24.1" height="11.69" fill="#9999ff" stroke="#0c0c3c" stroke-width="1.2"/><rect x="758.06" y="494.00" width="24.1" height="13.60" fill="#9999ff" stroke="#0c0c3c" stroke-width="1.2"/><line x1="559.3" y1="169.80" x2="559.3" y2="508.30" stroke="#111" stroke-width="1.6"/><line x1="556.0" y1="507.6" x2="800.4" y2="507.6" stroke="#111" stroke-width="1.4"/><line x1="559.50" y1="507.6" x2="559.50" y2="510.6" stroke="#111" stroke-width="1.3"/><line x1="619.58" y1="507.6" x2="619.58" y2="510.6" stroke="#111" stroke-width="1.3"/><line x1="679.65" y1="507.6" x2="679.65" y2="510.6" stroke="#111" stroke-width="1.3"/><line x1="739.72" y1="507.6" x2="739.72" y2="510.6" stroke="#111" stroke-width="1.3"/><line x1="799.80" y1="507.6" x2="799.80" y2="510.6" stroke="#111" stroke-width="1.3"/><text x="583.6" y="519.1" transform="rotate(90 583.6 519.1)" font-family="Liberation Sans, sans-serif" font-size="16.5" fill="#000">NY-ESO-1</text><text x="645.4" y="519.1" transform="rotate(90 645.4 519.1)" font-family="Liberation Sans, sans-serif" font-size="16.5" fill="#000">Flu</text><text x="706" y="519.1" transform="rotate(90 706 519.1)" font-family="Liberation Sans, sans-serif" font-size="16.5" fill="#000">No peptide</text><text x="764.8" y="519.1" transform="rotate(90 764.8 519.1)" font-family="Liberation Sans, sans-serif" font-size="16.5" fill="#000">Effector alone</text><g transform="translate(503.3 488.7) rotate(-90)"><text x="-1.90" y="0" font-family="Liberation Sans, sans-serif" font-size="20.6" fill="#000">IFN-</text><g transform="translate(39.1 0)"><path d="M6.3,-9.3 L8.3,-8.9 L4.4,-2.6 L3.5,-2.9 Z" fill="#000"/><path d="M0.3,-7.9 C0.9,-9.0 2.1,-8.5 2.8,-6.6 L3.95,-2.8 M3.95,-2.8 C3.1,0.2 2.8,3.3 3.55,4.3 C4.35,3.3 4.6,0.2 3.95,-2.8" fill="none" stroke="#000" stroke-width="1.1" stroke-linecap="round" stroke-linejoin="round"/></g><text x="53.33" y="0" font-family="Liberation Sans, sans-serif" font-size="20.6" fill="#000">spots / 50,000 cells</text></g><rect x="112.6" y="42.2" width="608.1" height="89.6" rx="14" ry="14" fill="#ffff00" stroke="#111" stroke-width="1.6"/><text x="416.5" y="97" text-anchor="middle" font-family="Liberation Sans, sans-serif" font-size="37.6" fill="#000">ELISPOT (test &amp; plate reading)</text></svg>
</body></html>
